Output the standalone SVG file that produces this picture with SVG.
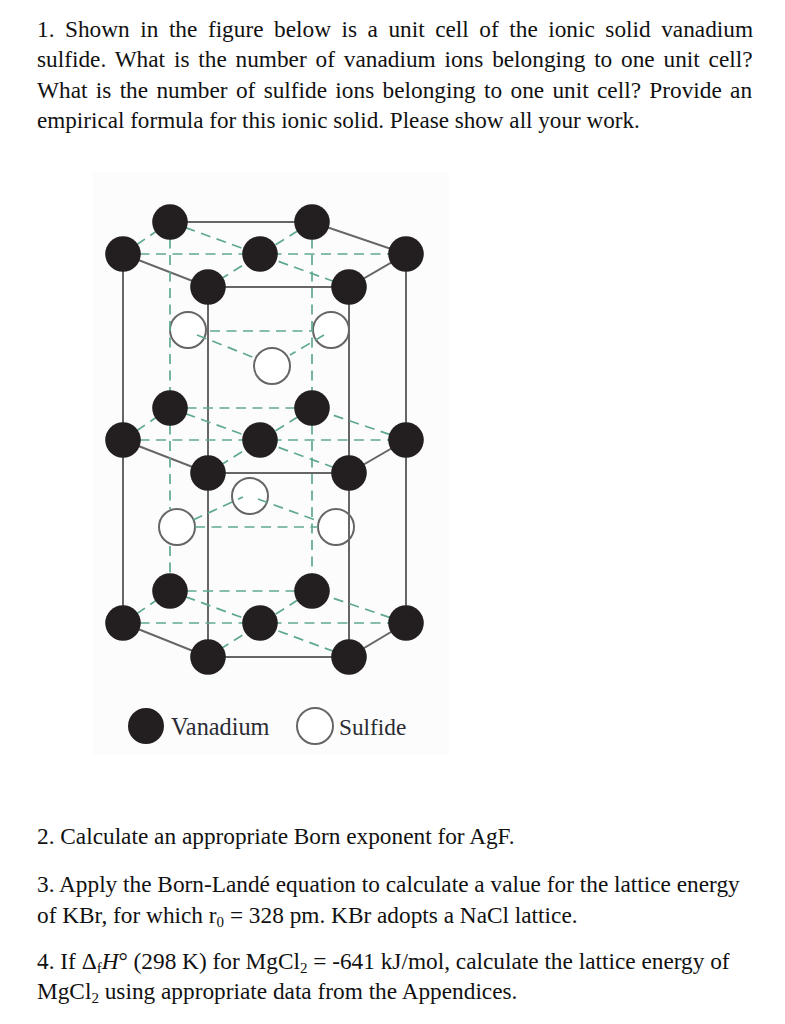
<svg xmlns="http://www.w3.org/2000/svg" width="785" height="1024" viewBox="0 0 785 1024">
<style>
text{font-family:"Liberation Serif","Times New Roman",serif;font-size:23.3px;fill:#111}
.s{fill:none;stroke:#666;stroke-width:2}
.d{fill:none;stroke:#5fa98f;stroke-width:1.7;stroke-dasharray:10 6.5}
.v{fill:#231f20}
.o{fill:#fff;stroke:#666;stroke-width:2}
.l{fill:#2b2b33}
.u{font-size:15px}
</style>
<rect x="0" y="0" width="785" height="1024" fill="#fff"/>
<rect x="93" y="172" width="356" height="583" fill="#fcfcfc"/>
<g id="text-q1">
<text x="37" y="37" word-spacing="4.7">1. Shown in the figure below is a unit cell of the ionic solid vanadium</text>
<text x="37" y="67" word-spacing="3">sulfide. What is the number of vanadium ions belonging to one unit cell?</text>
<text x="37" y="98" word-spacing="2.5">What is the number of sulfide ions belonging to one unit cell? Provide an</text>
<text x="37" y="128" style="font-size:23.15px">empirical formula for this ionic solid. Please show all your work.</text>
</g>
<g id="sulfide-ions">
<circle id="s1" class="o" cx="188" cy="330" r="18"/>
<circle id="s2" class="o" cx="331" cy="330" r="18"/>
<circle id="s3" class="o" cx="272" cy="366" r="18"/>
<circle id="s4" class="o" cx="250" cy="496" r="18"/>
<circle id="s5" class="o" cx="177" cy="527" r="18"/>
<circle id="s6" class="o" cx="336" cy="527" r="18"/>
</g>
<g id="connectors">
<path class="s" d="M123 254V623M208 287V657M349 287V657M406 254V623"/>
<path class="s" d="M170 222H312L406 254L349 287H208L123 254"/>
<path class="s" d="M406 440L349 473H208L123 440"/>
<path class="s" d="M406 623L349 657H208L123 623"/>
<path class="d" d="M170 222V408M312 222V408M170 408V509M170 546V591M312 408V591"/>
<path class="d" d="M123 254L170 222M123 254H406M170 222L349 287M312 222L208 287"/>
<path class="d" d="M170 408H312L406 440M123 440L170 408M123 440H406M170 408L349 473M312 408L208 473"/>
<path class="d" d="M170 591H312L406 623M123 623L170 591M123 623H406M170 591L349 657M312 591L208 657"/>
<path class="d" d="M210 331H313M197 335L255 358M324 335L290 355"/>
<path class="d" d="M195 527H318M193 520L243 497M258 499L318 521"/>
</g>
<g id="vanadium-ions">
<circle id="v1" class="v" cx="170" cy="222" r="17.8"/>
<circle id="v2" class="v" cx="312" cy="222" r="17.8"/>
<circle id="v3" class="v" cx="123" cy="254" r="17.8"/>
<circle id="v4" class="v" cx="260" cy="254" r="17.8"/>
<circle id="v5" class="v" cx="406" cy="254" r="17.8"/>
<circle id="v6" class="v" cx="208" cy="287" r="17.8"/>
<circle id="v7" class="v" cx="349" cy="287" r="17.8"/>
<circle id="v8" class="v" cx="170" cy="408" r="17.8"/>
<circle id="v9" class="v" cx="312" cy="408" r="17.8"/>
<circle id="v10" class="v" cx="123" cy="440" r="17.8"/>
<circle id="v11" class="v" cx="260" cy="440" r="17.8"/>
<circle id="v12" class="v" cx="406" cy="440" r="17.8"/>
<circle id="v13" class="v" cx="208" cy="473" r="17.8"/>
<circle id="v14" class="v" cx="349" cy="473" r="17.8"/>
<circle id="v15" class="v" cx="170" cy="591" r="17.8"/>
<circle id="v16" class="v" cx="312" cy="591" r="17.8"/>
<circle id="v17" class="v" cx="123" cy="623" r="17.8"/>
<circle id="v18" class="v" cx="260" cy="623" r="17.8"/>
<circle id="v19" class="v" cx="406" cy="623" r="17.8"/>
<circle id="v20" class="v" cx="208" cy="657" r="17.8"/>
<circle id="v21" class="v" cx="349" cy="657" r="17.8"/>
</g>
<g id="legend-vanadium">
<circle class="v" cx="146" cy="726" r="18"/>
<text class="l" x="171" y="735" style="font-size:24.3px">Vanadium</text>
</g>
<g id="legend-sulfide">
<circle class="o" cx="315" cy="726" r="18"/>
<text class="l" x="339" y="735">Sulfide</text>
</g>
<g id="text-q2-4">
<text x="37" y="844">2. Calculate an appropriate Born exponent for AgF.</text>
<text x="37" y="892">3. Apply the Born-Landé equation to calculate a value for the lattice energy</text>
<text x="37" y="923">of KBr, for which r<tspan class="u" dy="4">0</tspan><tspan dy="-4"> = 328 pm. KBr adopts a NaCl lattice.</tspan></text>
<text x="37" y="969">4. If Δ<tspan class="u" dy="4">f</tspan><tspan dy="-4" font-style="italic">H</tspan>° (298 K) for MgCl<tspan class="u" dy="4">2</tspan><tspan dy="-4"> = -641 kJ/mol, calculate the lattice energy of</tspan></text>
<text x="37" y="999">MgCl<tspan class="u" dy="4">2</tspan><tspan dy="-4"> using appropriate data from the Appendices.</tspan></text>
</g>
</svg>
